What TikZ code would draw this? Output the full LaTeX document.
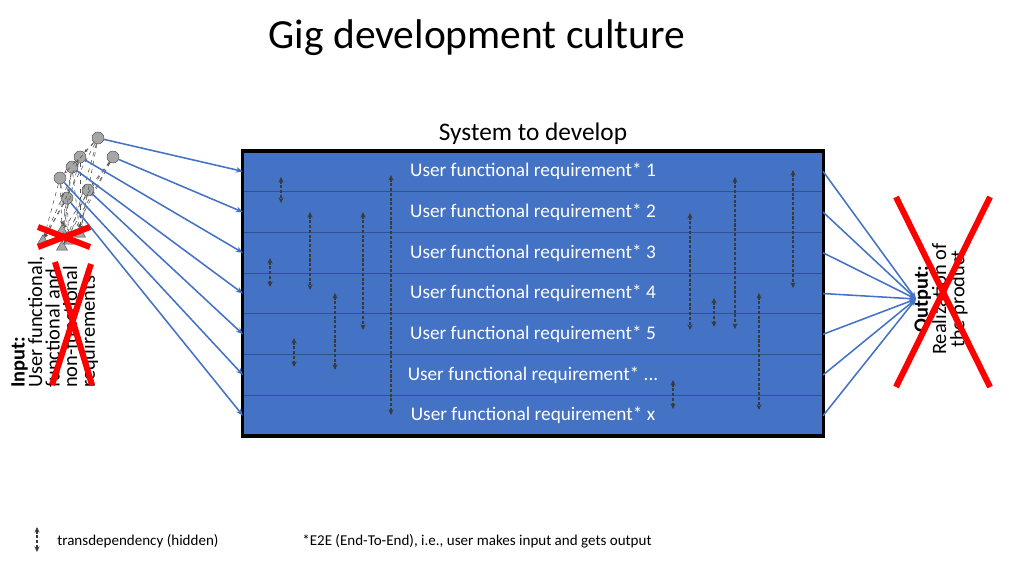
\documentclass[tikz,border=0pt]{standalone}
\usepackage{fontspec}
\setmainfont{Carlito}
\usetikzlibrary{arrows.meta,shapes.geometric,positioning}
\definecolor{sysblue}{HTML}{4472C4}
\definecolor{rowline}{HTML}{2F528F}
\definecolor{depgray}{HTML}{3A3A3A}
\definecolor{nodegray}{HTML}{A6A6A6}
\tikzset{
	rowbox/.style={fill=sysblue, draw=rowline, line width=0.8pt, minimum width=14.5cm, minimum height=1.0175cm, inner sep=0pt, outer sep=0pt, text=white, font=\fontsize{13.7}{15}\selectfont},
	flow/.style={draw=sysblue, line width=1.1pt, -{Stealth[length=5pt,width=4pt]}},
	transdep/.style={draw=depgray, line width=0.9pt, dash pattern=on 2.2pt off 1.2pt, {Stealth[length=4pt,width=3.6pt]}-{Stealth[length=4pt,width=3.6pt]}},
	cross/.style={draw=red, line width=4.3pt},
	gnode/.style={circle, fill=nodegray, draw=gray!60!black, line width=0.3pt, minimum size=0.3cm, inner sep=0pt},
	tnode/.style={regular polygon, regular polygon sides=3, fill=nodegray, draw=gray!60!black, line width=0.3pt, minimum size=0.32cm, inner sep=0pt},
	hidden/.style={draw=gray!65!black, line width=0.4pt, dashed, -{Stealth[length=2.5pt,width=2pt]}}
}
\begin{document}
\begin{tikzpicture}[x=0.025cm, y=-0.025cm]
	\useasboundingbox (0,0) rectangle (1024,576);
	\node[font=\fontsize{29.5}{32}\selectfont] (title) at (477,38) {Gig development culture};

	% system rows
	\node[rowbox] (r1) at (533,171.4) {User functional requirement* 1};
	\foreach \i/\t in {2/2, 3/3, 4/4, 5/5, 6/{{...}}, 7/x} {
		\pgfmathtruncatemacro{\p}{\i-1}
		\node[rowbox, below=0pt of r\p] (r\i) {User functional requirement* \t};
	}
	\draw[line width=2.2pt] (r1.north west) rectangle (r7.south east);
	\node[font=\fontsize{18}{20}\selectfont, above=1pt of r1] (sys) {System to develop};

	% hidden dependencies
	\foreach \x/\a/\b in {281/177/203, 310/212/290, 270/258/287, 363/212/330, 335/293/370, 294/338/367, 391/175/415, 690/213/330, 714/298/327, 735/177/329, 793/170/288, 759/293/410, 673/380/409} {
		\draw[transdep] (\x,\a) -- (\x,\b);
	}

	% input cluster
	\foreach \n/\x/\y in {t1/43/241, t2/62/231, t3/80/234, t4/69/241, t5/62/247} {
		\node[tnode] (\n) at (\x,\y) {};
	}
	\foreach \n/\x/\y in {a/98/138, b/113/157, c/80/157, d/72/167, e/60/178, f/88/190, g/67/198} {
		\node[gnode] (\n) at (\x,\y) {};
	}
	\foreach \s/\t in {a/t1, a/t3, a/t4, b/t2, b/t4, b/t5, c/t1, c/t2, c/t3, d/t3, d/t5, e/t1, e/t4, e/t2, f/t3, f/t5, g/t2, g/t4, g/t1, a/c, b/f, c/e, a/d, d/g} {
		\draw[hidden] (\s) -- (\t);
	}
	\foreach \s/\i in {a/1, b/2, c/3, d/4, f/5, e/6, g/7} {
		\draw[flow] (\s) -- (r\i.west);
	}
	\node[rotate=90, anchor=north west, align=left, inner sep=0pt, font=\fontsize{14.5}{12.5}\selectfont] (input) at (11,388) {\textbf{Input:}\\User functional,\\functional and\\non-functional\\requirements};
	\draw[cross] (38,227) -- (90,247) (38,247) -- (90,227);
	\draw[cross] (52,385) -- (91,264) (55,262) -- (92,385);

	% output
	\coordinate (out) at (916,299);
	\foreach \i in {1,...,7} {
		\draw[flow] (r\i.east) -- (out);
	}
	\node[rotate=90, align=center, inner sep=0pt, font=\fontsize{14.5}{13}\selectfont] (output) at (941,299) {\textbf{Output:}\\Realization of\\the product};
	\draw[cross] (896,197) -- (990,387) (990,197) -- (896,387);

	% legend
	\draw[transdep] (37,527) -- (37,552);
	\node[anchor=west, inner sep=0pt, font=\fontsize{10.7}{12}\selectfont] (leg1) at (57,541) {transdependency (hidden)};
	\node[anchor=west, inner sep=0pt, font=\fontsize{10.7}{12}\selectfont] (leg2) at (302,541) {*E2E (End-To-End), i.e., user makes input and gets output};
\end{tikzpicture}
\end{document}
